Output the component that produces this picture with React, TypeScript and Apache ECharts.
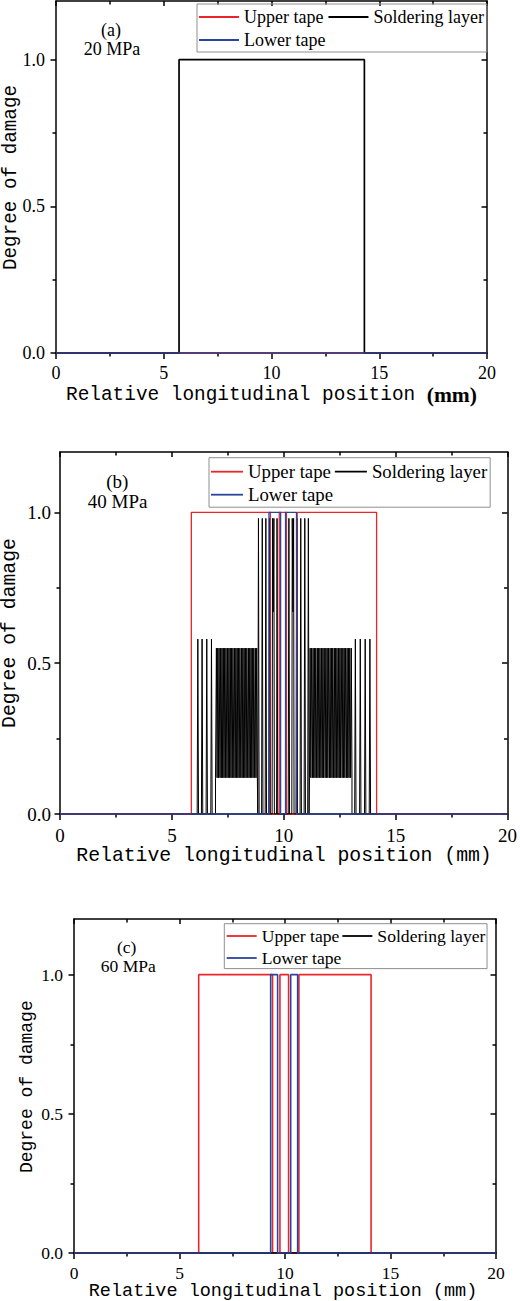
import React, { useEffect, useRef } from "react";
import * as echarts from "echarts";

// ---------- data ----------
const X_MIN = 0;
const X_MAX = 20;
const X_STEP = 5;
const Y_MIN = 0;
const Y_MAX = 1.2;
const Y_MAJOR = [0, 0.5, 1.0];
const Y_MINOR = [0.25, 0.75];
const SERIES_NAMES = ["Upper tape", "Soldering layer", "Lower tape"];
const PANEL_TAGS = ["(a)", "(b)", "(c)"];
const PRESSURES = ["20 MPa", "40 MPa", "60 MPa"];
const X_TITLE = "Relative longitudinal position";
const X_UNIT = "(mm)";
const Y_TITLE = "Degree of damage";

// (a) 20 MPa
const upperA = [[0, 0], [20, 0]];
const solderA = [[0, 0], [5.71, 0], [5.71, 1], [14.31, 1], [14.31, 0], [20, 0]];
const lowerA = [[0, 0], [20, 0]];

// (b) 40 MPa
const upperB = [
  [0, 0], [5.87, 0], [5.87, 1], [9.4, 1], [9.4, 0], [9.8, 0], [9.8, 1], [10.12, 1],
  [10.12, 0], [10.6, 0], [10.6, 1], [14.15, 1], [14.15, 0], [20, 0],
];
const lowerB = [
  [0, 0], [9.34, 0], [9.34, 1], [9.86, 1], [9.86, 0], [10.08, 0], [10.08, 1],
  [10.57, 1], [10.57, 0], [20, 0],
];
const solderBOuterLeft = [6.16, 6.35, 6.56, 6.77];
const solderBOuterRight = [13.2, 13.42, 13.64, 13.85];
const solderBOuterPeak = 0.58;
const solderBDenseLow = 0.12;
const solderBDenseHigh = 0.55;
const solderBDenseLeftRange = [6.95, 8.84];
const solderBDenseRightRange = [11.15, 13.05];
const solderBDenseLeftPeaks = [
  6.99, 7.05, 7.11, 7.18, 7.24, 7.3, 7.36, 7.42, 7.49, 7.55, 7.61, 7.67, 7.73, 7.8, 7.86,
  7.92, 7.98, 8.04, 8.11, 8.17, 8.23, 8.29, 8.35, 8.42, 8.48, 8.54, 8.6, 8.66, 8.73, 8.79,
];
const solderBDenseRightPeaks = [
  11.18, 11.24, 11.31, 11.37, 11.43, 11.5, 11.56, 11.62, 11.69, 11.75, 11.81, 11.88, 11.94,
  12.0, 12.07, 12.13, 12.19, 12.26, 12.32, 12.38, 12.45, 12.51, 12.57, 12.64, 12.7, 12.76,
  12.83, 12.89, 12.95, 13.02,
];
const solderBCenter = [
  [8.84, 0], [8.87, 0.98], [8.9, 0], [9.01, 0], [9.04, 0.98], [9.07, 0], [9.17, 0],
  [9.2, 0.98], [9.23, 0], [9.33, 0], [9.36, 0.98], [9.39, 0], [9.48, 0], [9.5, 0.98],
  [9.53, 0.67], [9.56, 0.98], [9.58, 0], [9.68, 0], [9.7, 0.98], [9.73, 0], [10.2, 0],
  [10.23, 0.98], [10.26, 0], [10.36, 0], [10.38, 0.98], [10.41, 0.67], [10.44, 0.98],
  [10.46, 0], [10.55, 0], [10.58, 0.98], [10.61, 0], [10.73, 0], [10.76, 0.98], [10.79, 0],
  [10.91, 0], [10.94, 0.98], [10.97, 0], [11.07, 0], [11.1, 0.98], [11.13, 0],
];

// (c) 60 MPa
const upperC = [
  [0, 0], [5.91, 0], [5.91, 1], [9.41, 1], [9.41, 0], [9.76, 0], [9.76, 1], [10.17, 1],
  [10.17, 0], [10.66, 0], [10.66, 1], [14.08, 1], [14.08, 0], [20, 0],
];
const solderC = [[0, 0], [20, 0]];
const lowerC = [
  [0, 0], [9.32, 0], [9.32, 1], [9.65, 1], [9.65, 0], [10.27, 0], [10.27, 1],
  [10.6, 1], [10.6, 0], [20, 0],
];

// ---------- build helpers ----------
const HALF = 0.03;
function spikes(xs: number[], h: number) {
  return xs.flatMap((x) => [[x - HALF, 0], [x, h], [x + HALF, 0]]);
}
function dense(range: number[], peaks: number[], lo: number, hi: number) {
  const pts: number[][] = [[range[0], 0], [range[0], lo]];
  peaks.forEach((p) => {
    pts.push([p - HALF, lo], [p, hi]);
  });
  pts.push([peaks[peaks.length - 1] + HALF, lo], [range[1], lo], [range[1], 0]);
  return pts;
}
const solderB = [
  [0, 0],
  ...spikes(solderBOuterLeft, solderBOuterPeak),
  ...dense(solderBDenseLeftRange, solderBDenseLeftPeaks, solderBDenseLow, solderBDenseHigh),
  ...solderBCenter,
  ...dense(solderBDenseRightRange, solderBDenseRightPeaks, solderBDenseLow, solderBDenseHigh),
  ...spikes(solderBOuterRight, solderBOuterPeak),
  [20, 0],
];

const PANEL_DATA = [
  [upperA, solderA, lowerA],
  [upperB, solderB, lowerB],
  [upperC, solderC, lowerC],
];

// ---------- layout / style ----------
const SERIF = "Liberation Serif";
const MONO = "Liberation Mono";
const COLORS = ["#e8262b", "#000000", "#2a45a0"];
const LINE_WIDTHS = [
  [1.5, 1.7, 1.5],
  [1.3, 1.0, 1.3],
  [1.6, 1.5, 1.6],
];

const PANELS = [
  {
    grid: { left: 56, top: 1, width: 431, height: 352 },
    tickFont: 18, xMargin: 11, yMargin: 11,
    legend: { left: 197, top: 4, padding: [4, 3, 3, 2], itemWidth: 40, itemGap: 5, fontSize: 18, width: 290, lineHeight: 18 },
    tag: [111, 30], pres: [112, 49], tagFont: 18,
    xTitle: [271.5, 395, 19.4], yTitle: [11, 177.5, 19.3], boldUnit: true,
  },
  {
    grid: { left: 60, top: 452, width: 451, height: 362 },
    tickFont: 19, xMargin: 11.5, yMargin: 9,
    legend: { left: 209, top: 457.7, padding: [4.5, 3, 3, 2], itemWidth: 32, itemGap: 4, fontSize: 18.8, width: 285, lineHeight: 18.8 },
    tag: [117.3, 481.7], pres: [117.7, 501.7], tagFont: 19,
    xTitle: [284, 856, 19.8], yTitle: [10, 633, 19.8], boldUnit: false,
  },
  {
    grid: { left: 74, top: 919, width: 422, height: 334 },
    tickFont: 17.5, xMargin: 11, yMargin: 11,
    legend: { left: 224.3, top: 923.7, padding: [2.8, 1.7, 1.1, 2.4], itemWidth: 30, itemGap: 3, fontSize: 17.6, width: 265, lineHeight: 19 },
    tag: [126.7, 946.7], pres: [128.3, 965.7], tagFont: 17.5,
    xTitle: [283, 1291.7, 18.5], yTitle: [27, 1086.7, 18], boldUnit: false,
  },
];

function buildOption() {
  const grid: any[] = [];
  const xAxis: any[] = [];
  const yAxis: any[] = [];
  const series: any[] = [];
  const legend: any[] = [];
  const elements: any[] = [];
  const lineStyle = { color: "#000", width: 1.5 };

  PANELS.forEach((p, i) => {
    grid.push({ ...p.grid, containLabel: false });
    const common = {
      gridIndex: i,
      type: "value",
      splitLine: { show: false },
      minorSplitLine: { show: false },
    };
    xAxis.push({
      ...common, min: X_MIN, max: X_MAX, interval: X_STEP, position: "bottom",
      axisLine: { show: true, onZero: false, lineStyle },
      axisTick: { show: true, inside: false, length: 6, lineStyle },
      minorTick: { show: true, splitNumber: 2, length: 3.5, lineStyle },
      axisLabel: { show: true, margin: p.xMargin, color: "#000", fontSize: p.tickFont, fontFamily: SERIF },
    });
    xAxis.push({
      ...common, min: X_MIN, max: X_MAX, interval: X_STEP, position: "top",
      axisLine: { show: true, onZero: false, lineStyle },
      axisTick: { show: true, inside: true, length: 5, lineStyle },
      minorTick: { show: true, splitNumber: 2, length: 3.5, lineStyle },
      axisLabel: { show: false },
    });
    yAxis.push({
      ...common, min: Y_MIN, max: Y_MAX, interval: 0.5, position: "left",
      axisLine: { show: true, onZero: false, lineStyle },
      axisTick: { show: true, inside: false, length: 5.5, lineStyle, customValues: Y_MAJOR },
      axisLabel: {
        show: true, margin: p.yMargin, color: "#000", fontSize: p.tickFont, fontFamily: SERIF,
        customValues: Y_MAJOR, formatter: (v: number) => v.toFixed(1),
      },
    });
    yAxis.push({
      ...common, min: Y_MIN, max: Y_MAX, interval: 0.25, position: "left",
      axisLine: { show: false, onZero: false },
      axisTick: { show: true, inside: false, length: 3.5, lineStyle, customValues: Y_MINOR },
      axisLabel: { show: false },
    });
    yAxis.push({
      ...common, min: Y_MIN, max: Y_MAX, interval: 0.5, position: "right",
      axisLine: { show: true, onZero: false, lineStyle },
      axisTick: { show: true, inside: true, length: 5.5, lineStyle, customValues: Y_MAJOR },
      axisLabel: { show: false },
    });
    yAxis.push({
      ...common, min: Y_MIN, max: Y_MAX, interval: 0.25, position: "right",
      axisLine: { show: false, onZero: false },
      axisTick: { show: true, inside: true, length: 3.5, lineStyle, customValues: Y_MINOR },
      axisLabel: { show: false },
    });

    PANEL_DATA[i].forEach((data, k) => {
      series.push({
        name: SERIES_NAMES[k],
        type: "line",
        xAxisIndex: i * 2,
        yAxisIndex: i * 4,
        data,
        symbol: "none",
        showSymbol: false,
        silent: true,
        color: COLORS[k],
        lineStyle: { color: COLORS[k], width: LINE_WIDTHS[i][k] },
        z: 2 + k,
      });
    });

    const L = p.legend;
    legend.push({
      show: true,
      orient: "horizontal",
      left: L.left,
      top: L.top,
      width: L.width,
      padding: L.padding,
      itemWidth: L.itemWidth,
      itemHeight: 1.8,
      itemGap: L.itemGap,
      icon: "rect",
      itemStyle: { borderWidth: 0 },
      borderColor: "#8f8f8f",
      borderWidth: 1,
      data: SERIES_NAMES,
      selectedMode: false,
      textStyle: { color: "#000", fontSize: L.fontSize, fontFamily: SERIF, lineHeight: L.lineHeight },
    });

    elements.push({
      type: "text", x: p.tag[0], y: p.tag[1],
      style: { text: PANEL_TAGS[i], fontSize: p.tagFont, fontFamily: SERIF, fill: "#000", align: "center", verticalAlign: "middle" },
    });
    elements.push({
      type: "text", x: p.pres[0], y: p.pres[1],
      style: { text: PRESSURES[i], fontSize: p.tagFont, fontFamily: SERIF, fill: "#000", align: "center", verticalAlign: "middle" },
    });
    elements.push({
      type: "text", x: p.xTitle[0], y: p.xTitle[1],
      style: p.boldUnit
        ? {
            text: X_TITLE + " {u|" + X_UNIT + "}",
            fontSize: p.xTitle[2], fontFamily: MONO, fill: "#000", align: "center", verticalAlign: "middle",
            rich: { u: { fontFamily: SERIF, fontWeight: "bold", fontSize: 21.5, fill: "#000" } },
          }
        : {
            text: X_TITLE + " " + X_UNIT,
            fontSize: p.xTitle[2], fontFamily: MONO, fill: "#000", align: "center", verticalAlign: "middle",
          },
    });
    elements.push({
      type: "text", x: p.yTitle[0], y: p.yTitle[1], rotation: Math.PI / 2,
      style: { text: Y_TITLE, fontSize: p.yTitle[2], fontFamily: MONO, fill: "#000", align: "center", verticalAlign: "middle" },
    });
  });

  return {
    animation: false,
    backgroundColor: "#ffffff",
    grid, xAxis, yAxis, series, legend,
    graphic: { elements },
  };
}

export default function App() {
  const ref = useRef<HTMLDivElement>(null);
  useEffect(() => {
    document.body.style.margin = "0";
    if (!ref.current) return;
    const chart = echarts.init(ref.current, null, { renderer: "svg" });
    chart.setOption(buildOption() as any);
    return () => chart.dispose();
  }, []);
  return (
    <div
      ref={ref}
      style={{ position: "absolute", left: 0, top: 0, width: 520, height: 1301, background: "#fff" }}
    />
  );
}
